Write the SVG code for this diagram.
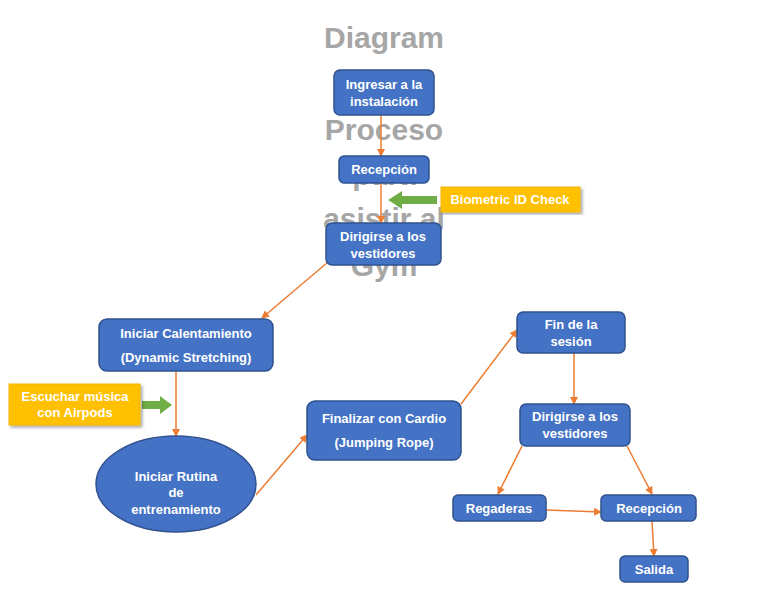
<svg xmlns="http://www.w3.org/2000/svg" width="768" height="594" viewBox="0 0 768 594">
<style>
.t{font-family:"Liberation Sans",Arial,sans-serif;font-weight:bold;fill:#a6a6a6;font-size:30px;text-anchor:middle}
.n{fill:#4472c4;stroke:#2f528f;stroke-width:1.5}
.y{fill:#ffc000;stroke:#f2b600;stroke-width:1}
.l{font-family:"Liberation Sans",Arial,sans-serif;font-weight:bold;fill:#fff;font-size:13px;text-anchor:middle}
.c{stroke:#ed7d31;stroke-width:1.5;fill:none;marker-end:url(#a)}
</style>
<defs>
<marker id="a" markerWidth="8" markerHeight="8" refX="7" refY="4" orient="auto" markerUnits="userSpaceOnUse"><path d="M0,0L8,4L0,8z" fill="#ed7d31"/></marker>
<filter id="s"><feDropShadow dx="2" dy="2" stdDeviation="1.5" flood-opacity="0.35"/></filter>
</defs>
<rect width="768" height="594" fill="#fff"/>
<g id="title">
<text class="t" x="384" y="48">Diagram</text>
<text class="t" x="384" y="140">Proceso</text>
<text class="t" x="384" y="185">para</text>
<text class="t" x="384" y="229">asistir al</text>
<text class="t" x="384" y="276">Gym</text>
</g>
<g id="connectors">
<line class="c" x1="381" y1="115" x2="381" y2="156"/>
<line class="c" x1="381" y1="183" x2="381" y2="223"/>
<line class="c" x1="328" y1="262" x2="262" y2="318"/>
<line class="c" x1="176" y1="371" x2="176" y2="436"/>
<line class="c" x1="256" y1="495" x2="307" y2="435"/>
<line class="c" x1="461" y1="404" x2="517" y2="330"/>
<line class="c" x1="574" y1="353" x2="574" y2="404"/>
<line class="c" x1="522" y1="446" x2="498" y2="494"/>
<line class="c" x1="627" y1="446" x2="652" y2="494"/>
<line class="c" x1="546" y1="510" x2="601" y2="512"/>
<line class="c" x1="652" y1="521" x2="654" y2="556"/>
<path d="M437,196H402V191L388,200L402,209V204H437z" fill="#70ad47"/>
<path d="M142,401H160V396L172,405L160,414V409H142z" fill="#70ad47"/>
</g>
<g id="ingresar"><rect class="n" x="334" y="70" width="100" height="45" rx="6"/><text class="l" x="384" y="89">Ingresar a la</text><text class="l" x="384" y="106">instalación</text></g>
<g id="recepcion1"><rect class="n" x="339" y="156" width="90" height="27" rx="5"/><text class="l" x="384" y="174">Recepción</text></g>
<g id="dirigirse1"><rect class="n" x="326" y="223" width="115" height="42" rx="6"/><text class="l" x="383" y="241">Dirigirse a los</text><text class="l" x="383" y="258">vestidores</text></g>
<g id="biometric"><rect class="y" x="441" y="187" width="139" height="25" filter="url(#s)"/><text class="l" x="510" y="204">Biometric ID Check</text></g>
<g id="calentamiento"><rect class="n" x="99" y="319" width="174" height="52" rx="8"/><text class="l" x="186" y="338">Iniciar Calentamiento</text><text class="l" x="186" y="362">(Dynamic Stretching)</text></g>
<g id="musica"><rect class="y" x="9" y="384" width="131" height="41" filter="url(#s)"/><text class="l" x="75" y="401">Escuchar música</text><text class="l" x="75" y="417">con Airpods</text></g>
<g id="rutina"><ellipse class="n" cx="176" cy="484" rx="80" ry="48"/><text class="l" x="176" y="481">Iniciar Rutina</text><text class="l" x="176" y="497">de</text><text class="l" x="176" y="514">entrenamiento</text></g>
<g id="cardio"><rect class="n" x="307" y="401" width="154" height="59" rx="8"/><text class="l" x="384" y="423">Finalizar con Cardio</text><text class="l" x="384" y="447">(Jumping Rope)</text></g>
<g id="fin"><rect class="n" x="517" y="312" width="108" height="41" rx="6"/><text class="l" x="571" y="329">Fin de la</text><text class="l" x="571" y="346">sesión</text></g>
<g id="dirigirse2"><rect class="n" x="520" y="404" width="110" height="42" rx="6"/><text class="l" x="575" y="421">Dirigirse a los</text><text class="l" x="575" y="438">vestidores</text></g>
<g id="regaderas"><rect class="n" x="453" y="495" width="93" height="26" rx="5"/><text class="l" x="499" y="513">Regaderas</text></g>
<g id="recepcion2"><rect class="n" x="601" y="495" width="95" height="26" rx="5"/><text class="l" x="649" y="513">Recepción</text></g>
<g id="salida"><rect class="n" x="620" y="556" width="68" height="26" rx="5"/><text class="l" x="654" y="574">Salida</text></g>
</svg>
